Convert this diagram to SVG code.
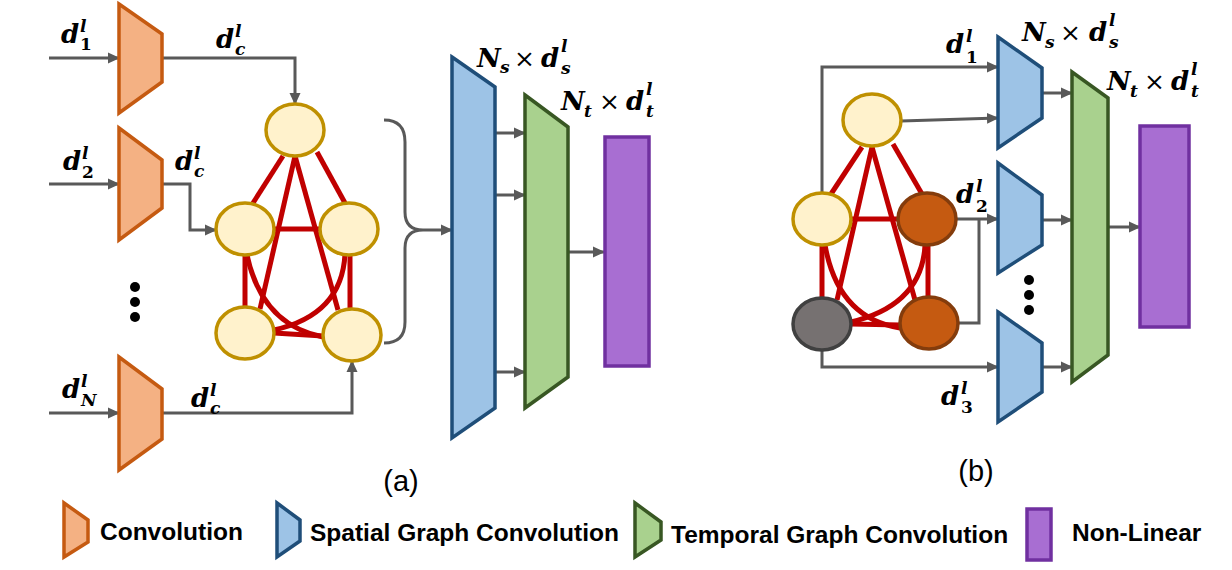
<svg xmlns="http://www.w3.org/2000/svg" width="1232" height="570" viewBox="0 0 1232 570">
<defs>
<marker id="ah" markerUnits="userSpaceOnUse" markerWidth="12" markerHeight="12" viewBox="0 0 12 12" refX="11" refY="6" orient="auto">
<path d="M0,0.5 L12,6 L0,11.5 z" fill="#595959"/>
</marker>
<style>
.conv{fill:#F4B183;stroke:#C55A11;stroke-width:3.5;stroke-linejoin:miter}
.sgc{fill:#9DC3E6;stroke:#1F4E79;stroke-width:3.5}
.tgc{fill:#A9D18E;stroke:#385723;stroke-width:3.5}
.nl{fill:#A86ED2;stroke:#7030A0;stroke-width:3.5}
.nd{fill:#FFF2CC;stroke:#BF9000;stroke-width:3.5}
.br{fill:#C55A11;stroke:#843C0C;stroke-width:3.5}
.gr{fill:#767171;stroke:#404040;stroke-width:3.5}
.e{fill:none;stroke:#C00000;stroke-width:5}
.c{fill:none;stroke:#595959;stroke-width:3}
.a{marker-end:url(#ah)}
.m{font-family:"DejaVu Serif","Liberation Serif",serif;font-weight:bold;font-style:italic;font-size:26px;fill:#000}
.s{font-size:17px}
.u{font-style:normal}
.x{font-weight:normal;font-style:normal;font-size:25px}
.lab{font-family:"Liberation Sans","Open Sans",sans-serif;font-size:29px;fill:#000}
.lg{font-family:"Liberation Sans","Open Sans",sans-serif;font-weight:bold;font-size:24.5px;fill:#000}
</style>
</defs>

<!-- Panel (a) graph edges -->
<g id="edges-a">
<line class="e" x1="283" y1="156" x2="253" y2="203"/>
<line class="e" x1="317" y1="152" x2="345" y2="203"/>
<line class="e" x1="295" y1="156" x2="260" y2="309"/>
<line class="e" x1="295" y1="156" x2="338" y2="310"/>
<line class="e" x1="274" y1="229" x2="320" y2="229"/>
<line class="e" x1="245" y1="255" x2="245" y2="307"/>
<line class="e" x1="350" y1="255" x2="350" y2="309"/>
<path class="e" d="M247,255 Q262,325 323,337"/>
<path class="e" d="M345,254 Q342,315 274,330"/>
<line class="e" x1="274" y1="333" x2="323" y2="336"/>
</g>

<!-- Panel (b) graph edges -->
<g id="edges-b">
<line class="e" x1="862" y1="147" x2="831" y2="194"/>
<line class="e" x1="893" y1="144" x2="922" y2="194"/>
<line class="e" x1="872" y1="147" x2="837" y2="300"/>
<line class="e" x1="872" y1="147" x2="915" y2="300"/>
<line class="e" x1="851" y1="219" x2="898" y2="219"/>
<line class="e" x1="822" y1="245" x2="822" y2="298"/>
<line class="e" x1="928" y1="245" x2="928" y2="298"/>
<path class="e" d="M825,245 Q838,318 900,328"/>
<path class="e" d="M925,245 Q922,305 851,322"/>
<line class="e" x1="851" y1="324" x2="900" y2="325"/>
</g>

<!-- connectors -->
<g id="connectors">
<path class="c a" d="M49,58 H119"/>
<path class="c a" d="M49,184 H119"/>
<path class="c a" d="M49,413 H119"/>
<path class="c a" d="M162,58 H295 V104"/>
<path class="c a" d="M162,184 H190 V230 H216"/>
<path class="c a" d="M162,413 H352 V361"/>
<path class="c" d="M384,120 Q405,120 405,142 L405,212 Q405,230 423,230 Q405,230 405,248 L405,322 Q405,343 384,343"/>
<path class="c a" d="M423,230 H452"/>
<path class="c a" d="M495,133 H525"/>
<path class="c a" d="M495,195 H525"/>
<path class="c a" d="M495,372 H525"/>
<path class="c a" d="M568,252 H604"/>
<path class="c a" d="M822,193 V67 H998"/>
<path class="c a" d="M901,121 L998,118"/>
<path class="c a" d="M955,219 H998"/>
<path class="c" d="M957,323 H979 V219"/>
<path class="c a" d="M822,350 V367 H998"/>
<path class="c a" d="M1042,93 H1072"/>
<path class="c a" d="M1042,220 H1072"/>
<path class="c a" d="M1042,367 H1072"/>
<path class="c a" d="M1108,227 H1140"/>
</g>

<!-- Panel (a) nodes -->
<g id="conv1"><polygon class="conv" points="119,4 162,34 162,82 119,113"/></g>
<g id="conv2"><polygon class="conv" points="119,128 162,160 162,208 119,240"/></g>
<g id="convN"><polygon class="conv" points="119,357 162,389 162,439 119,470"/></g>
<g id="dots-a"><circle cx="135" cy="287" r="5"/><circle cx="135" cy="302" r="5"/><circle cx="135" cy="317" r="5"/></g>
<g id="a-top"><ellipse class="nd" cx="295" cy="130" rx="29" ry="26"/></g>
<g id="a-ml"><ellipse class="nd" cx="245" cy="229" rx="29" ry="26"/></g>
<g id="a-mr"><ellipse class="nd" cx="349" cy="229" rx="29" ry="26"/></g>
<g id="a-bl"><ellipse class="nd" cx="245" cy="333" rx="29" ry="26"/></g>
<g id="a-br"><ellipse class="nd" cx="352" cy="335" rx="29" ry="26"/></g>
<g id="a-sgc"><polygon class="sgc" points="452,57 495,87 495,408 452,438"/></g>
<g id="a-tgc"><polygon class="tgc" points="525,95 568,127 568,377 525,408"/></g>
<g id="a-nl"><rect class="nl" x="605" y="137" width="44" height="229"/></g>

<!-- Panel (b) nodes -->
<g id="b-top"><ellipse class="nd" cx="872" cy="120" rx="29" ry="26"/></g>
<g id="b-ml"><ellipse class="nd" cx="822" cy="219" rx="29" ry="26"/></g>
<g id="b-mr"><ellipse class="br" cx="927" cy="219" rx="29" ry="26"/></g>
<g id="b-bl"><ellipse class="gr" cx="822" cy="324" rx="29" ry="26"/></g>
<g id="b-br"><ellipse class="br" cx="929" cy="323" rx="29" ry="26"/></g>
<g id="b-sgc1"><polygon class="sgc" points="998,37 1042,68 1042,118 998,148"/></g>
<g id="b-sgc2"><polygon class="sgc" points="998,163 1042,195 1042,245 998,273"/></g>
<g id="b-sgc3"><polygon class="sgc" points="998,312 1042,343 1042,392 998,422"/></g>
<g id="dots-b"><circle cx="1029" cy="280" r="5"/><circle cx="1029" cy="295" r="5"/><circle cx="1029" cy="310" r="5"/></g>
<g id="b-tgc"><polygon class="tgc" points="1072,72 1108,98 1108,355 1072,382"/></g>
<g id="b-nl"><rect class="nl" x="1140" y="126" width="49" height="201"/></g>

<!-- math labels -->
<g id="labels">
<text class="m" x="61" y="43">d<tspan class="s" x="80" y="32">l</tspan><tspan class="s u" x="80" y="50">1</tspan></text>
<text class="m" x="216" y="48">d<tspan class="s" x="235" y="37">l</tspan><tspan class="s" x="235" y="55">c</tspan></text>
<text class="m" x="63" y="170">d<tspan class="s" x="82" y="159">l</tspan><tspan class="s u" x="82" y="178">2</tspan></text>
<text class="m" x="175" y="170">d<tspan class="s" x="194" y="159">l</tspan><tspan class="s" x="194" y="177">c</tspan></text>
<text class="m" x="62" y="398">d<tspan class="s" x="81" y="387">l</tspan><tspan class="s" x="81" y="406">N</tspan></text>
<text class="m" x="191" y="407">d<tspan class="s" x="210" y="396">l</tspan><tspan class="s" x="210" y="414">c</tspan></text>
<text class="m" x="477" y="67">N<tspan class="s" x="500" y="73">s</tspan><tspan class="x" x="514" y="67">×</tspan><tspan x="541" y="67">d</tspan><tspan class="s" x="561" y="52">l</tspan><tspan class="s" x="561" y="74">s</tspan></text>
<text class="m" x="561" y="110">N<tspan class="s" x="584" y="117">t</tspan><tspan class="x" x="599" y="110">×</tspan><tspan x="626" y="110">d</tspan><tspan class="s" x="646" y="95">l</tspan><tspan class="s" x="646" y="117">t</tspan></text>
<text class="m" x="946" y="53">d<tspan class="s" x="966" y="42">l</tspan><tspan class="s u" x="966" y="63">1</tspan></text>
<text class="m" x="956" y="203">d<tspan class="s" x="976" y="192">l</tspan><tspan class="s u" x="976" y="212">2</tspan></text>
<text class="m" x="941" y="405">d<tspan class="s" x="961" y="394">l</tspan><tspan class="s u" x="961" y="413">3</tspan></text>
<text class="m" x="1022" y="41">N<tspan class="s" x="1045" y="48">s</tspan><tspan class="x" x="1060" y="41">×</tspan><tspan x="1089" y="41">d</tspan><tspan class="s" x="1109" y="26">l</tspan><tspan class="s" x="1109" y="48">s</tspan></text>
<text class="m" x="1107" y="90">N<tspan class="s" x="1130" y="97">t</tspan><tspan class="x" x="1144" y="90">×</tspan><tspan x="1171" y="90">d</tspan><tspan class="s" x="1191" y="75">l</tspan><tspan class="s" x="1191" y="97">t</tspan></text>
<text class="lab" x="401" y="491" text-anchor="middle">(a)</text>
<text class="lab" x="976" y="481" text-anchor="middle">(b)</text>
</g>

<!-- legend -->
<g id="legend">
<g id="lg-conv"><polygon class="conv" points="64,503 88,520 88,542 64,557"/><text class="lg" x="100" y="540">Convolution</text></g>
<g id="lg-sgc"><polygon class="sgc" points="277,503 300,520 300,541 277,557"/><text class="lg" x="310" y="541">Spatial Graph Convolution</text></g>
<g id="lg-tgc"><polygon class="tgc" points="635,503 661,522 661,540 635,557"/><text class="lg" x="671" y="543">Temporal Graph Convolution</text></g>
<g id="lg-nl"><rect class="nl" x="1027" y="509" width="24" height="51"/><text class="lg" x="1072" y="541">Non-Linear</text></g>
</g>
</svg>
